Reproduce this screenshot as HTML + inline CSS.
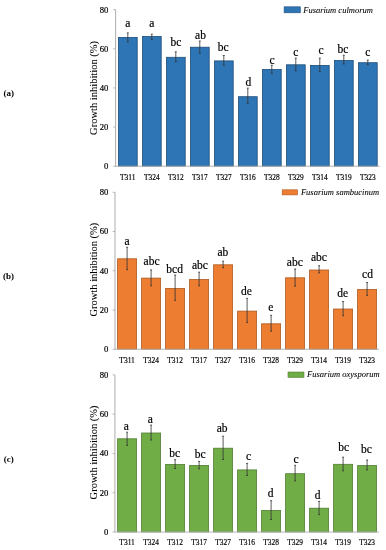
<!DOCTYPE html>
<html><head><meta charset="utf-8"><title>Growth inhibition chart</title>
<style>
html,body{margin:0;padding:0;background:#fff;}
svg{display:block;will-change:transform;}
text{font-family:"Liberation Serif",serif;fill:#000;stroke:#000;stroke-width:0.2;}
.r{font-style:normal;font-weight:normal;}
.i{font-style:italic;stroke-width:0.08;}
.yl{stroke-width:0.05;}
.b{font-weight:bold;stroke-width:0;}
</style></head><body>
<svg width="386" height="550" viewBox="0 0 386 550">
<g>
<rect x="118.4" y="37.4" width="18.8" height="128.8" fill="#2E75B6" stroke="#1F4E79" stroke-width="0.8"/>
<rect x="142.4" y="36.5" width="18.8" height="129.7" fill="#2E75B6" stroke="#1F4E79" stroke-width="0.8"/>
<rect x="166.4" y="57.3" width="18.8" height="108.9" fill="#2E75B6" stroke="#1F4E79" stroke-width="0.8"/>
<rect x="190.4" y="47.2" width="18.8" height="119" fill="#2E75B6" stroke="#1F4E79" stroke-width="0.8"/>
<rect x="214.4" y="60.9" width="18.8" height="105.3" fill="#2E75B6" stroke="#1F4E79" stroke-width="0.8"/>
<rect x="238.4" y="96.7" width="18.8" height="69.5" fill="#2E75B6" stroke="#1F4E79" stroke-width="0.8"/>
<rect x="262.4" y="69.5" width="18.8" height="96.7" fill="#2E75B6" stroke="#1F4E79" stroke-width="0.8"/>
<rect x="286.4" y="64.8" width="18.8" height="101.4" fill="#2E75B6" stroke="#1F4E79" stroke-width="0.8"/>
<rect x="310.4" y="65.4" width="18.8" height="100.8" fill="#2E75B6" stroke="#1F4E79" stroke-width="0.8"/>
<rect x="334.4" y="60.5" width="18.8" height="105.7" fill="#2E75B6" stroke="#1F4E79" stroke-width="0.8"/>
<rect x="358.4" y="62.7" width="18.8" height="103.5" fill="#2E75B6" stroke="#1F4E79" stroke-width="0.8"/>
<path d="M115.6 9.7V166.2H379.6" fill="none" stroke="#B4B4B4" stroke-width="1.1"/>
<path d="M113.3 166.2H115.6" stroke="#B4B4B4" stroke-width="1"/>
<path d="M113.3 127.07H115.6" stroke="#B4B4B4" stroke-width="1"/>
<path d="M113.3 87.95H115.6" stroke="#B4B4B4" stroke-width="1"/>
<path d="M113.3 48.82H115.6" stroke="#B4B4B4" stroke-width="1"/>
<path d="M113.3 9.7H115.6" stroke="#B4B4B4" stroke-width="1"/>
<path d="M127.8 32.9V41.9M126.8 32.9H128.8M126.8 41.9H128.8" stroke="#333" stroke-width="0.8" fill="none"/>
<path d="M151.8 34.2V39.4M150.8 34.2H152.8M150.8 39.4H152.8" stroke="#333" stroke-width="0.8" fill="none"/>
<path d="M175.8 51.8V61.7M174.8 51.8H176.8M174.8 61.7H176.8" stroke="#333" stroke-width="0.8" fill="none"/>
<path d="M199.8 41V53.3M198.8 41H200.8M198.8 53.3H200.8" stroke="#333" stroke-width="0.8" fill="none"/>
<path d="M223.8 55.5V65.3M222.8 55.5H224.8M222.8 65.3H224.8" stroke="#333" stroke-width="0.8" fill="none"/>
<path d="M247.8 88.1V103.7M246.8 88.1H248.8M246.8 103.7H248.8" stroke="#333" stroke-width="0.8" fill="none"/>
<path d="M271.8 65.3V73.4M270.8 65.3H272.8M270.8 73.4H272.8" stroke="#333" stroke-width="0.8" fill="none"/>
<path d="M295.8 58.1V70.8M294.8 58.1H296.8M294.8 70.8H296.8" stroke="#333" stroke-width="0.8" fill="none"/>
<path d="M319.8 58.1V71.7M318.8 58.1H320.8M318.8 71.7H320.8" stroke="#333" stroke-width="0.8" fill="none"/>
<path d="M343.8 55.3V64M342.8 55.3H344.8M342.8 64H344.8" stroke="#333" stroke-width="0.8" fill="none"/>
<path d="M367.8 60.1V64.6M366.8 60.1H368.8M366.8 64.6H368.8" stroke="#333" stroke-width="0.8" fill="none"/>
<rect x="284.1" y="6.8" width="16.2" height="6" fill="#2E75B6" stroke="#1F4E79" stroke-width="0.6"/>
</g>
<g class="tx">
<text class="r" x="108.4" y="169.1" font-size="8.6" text-anchor="end">0</text>
<text class="r" x="108.4" y="129.97" font-size="8.6" text-anchor="end">20</text>
<text class="r" x="108.4" y="90.85" font-size="8.6" text-anchor="end">40</text>
<text class="r" x="108.4" y="51.72" font-size="8.6" text-anchor="end">60</text>
<text class="r" x="108.4" y="12.6" font-size="8.6" text-anchor="end">80</text>
<text class="r" x="127.7" y="26.9" font-size="11.5" text-anchor="middle">a</text>
<text class="r" x="151.7" y="26.9" font-size="11.5" text-anchor="middle">a</text>
<text class="r" x="176" y="45.5" font-size="11.5" text-anchor="middle">bc</text>
<text class="r" x="200.5" y="38.8" font-size="11.5" text-anchor="middle">ab</text>
<text class="r" x="223.3" y="51.4" font-size="11.5" text-anchor="middle">bc</text>
<text class="r" x="248.4" y="85.5" font-size="11.5" text-anchor="middle">d</text>
<text class="r" x="272" y="63.7" font-size="11.5" text-anchor="middle">c</text>
<text class="r" x="295.9" y="55.8" font-size="11.5" text-anchor="middle">c</text>
<text class="r" x="321" y="54" font-size="11.5" text-anchor="middle">c</text>
<text class="r" x="343" y="52.7" font-size="11.5" text-anchor="middle">bc</text>
<text class="r" x="367.9" y="56.2" font-size="11.5" text-anchor="middle">c</text>
<text class="r" x="127.8" y="180.1" font-size="9" text-anchor="middle" textLength="15.58" lengthAdjust="spacingAndGlyphs">T311</text>
<text class="r" x="151.8" y="180.1" font-size="9" text-anchor="middle" textLength="15.58" lengthAdjust="spacingAndGlyphs">T324</text>
<text class="r" x="175.8" y="180.1" font-size="9" text-anchor="middle" textLength="15.58" lengthAdjust="spacingAndGlyphs">T312</text>
<text class="r" x="199.8" y="180.1" font-size="9" text-anchor="middle" textLength="15.58" lengthAdjust="spacingAndGlyphs">T317</text>
<text class="r" x="223.8" y="180.1" font-size="9" text-anchor="middle" textLength="15.58" lengthAdjust="spacingAndGlyphs">T327</text>
<text class="r" x="247.8" y="180.1" font-size="9" text-anchor="middle" textLength="15.58" lengthAdjust="spacingAndGlyphs">T316</text>
<text class="r" x="271.8" y="180.1" font-size="9" text-anchor="middle" textLength="15.58" lengthAdjust="spacingAndGlyphs">T328</text>
<text class="r" x="295.8" y="180.1" font-size="9" text-anchor="middle" textLength="15.58" lengthAdjust="spacingAndGlyphs">T329</text>
<text class="r" x="319.8" y="180.1" font-size="9" text-anchor="middle" textLength="15.58" lengthAdjust="spacingAndGlyphs">T314</text>
<text class="r" x="343.8" y="180.1" font-size="9" text-anchor="middle" textLength="15.58" lengthAdjust="spacingAndGlyphs">T319</text>
<text class="r" x="367.8" y="180.1" font-size="9" text-anchor="middle" textLength="15.58" lengthAdjust="spacingAndGlyphs">T323</text>
<text class="r yl" transform="translate(96.6 87.95) rotate(-90)" font-size="10.5" text-anchor="middle">Growth inhibition (%)</text>
<text class="i" x="303.2" y="12.6" font-size="8.5">Fusarium culmorum</text>
<text class="b" x="3.5" y="95.6" font-size="9">(a)</text>
</g>
<g>
<rect x="117.6" y="258.8" width="19" height="90.5" fill="#ED7D31" stroke="#AE5A21" stroke-width="0.8"/>
<rect x="141.6" y="278.1" width="19" height="71.2" fill="#ED7D31" stroke="#AE5A21" stroke-width="0.8"/>
<rect x="165.6" y="288.4" width="19" height="60.9" fill="#ED7D31" stroke="#AE5A21" stroke-width="0.8"/>
<rect x="189.6" y="279.5" width="19" height="69.8" fill="#ED7D31" stroke="#AE5A21" stroke-width="0.8"/>
<rect x="213.6" y="264.8" width="19" height="84.5" fill="#ED7D31" stroke="#AE5A21" stroke-width="0.8"/>
<rect x="237.6" y="311.1" width="19" height="38.2" fill="#ED7D31" stroke="#AE5A21" stroke-width="0.8"/>
<rect x="261.6" y="323.8" width="19" height="25.5" fill="#ED7D31" stroke="#AE5A21" stroke-width="0.8"/>
<rect x="285.6" y="277.8" width="19" height="71.5" fill="#ED7D31" stroke="#AE5A21" stroke-width="0.8"/>
<rect x="309.6" y="270" width="19" height="79.3" fill="#ED7D31" stroke="#AE5A21" stroke-width="0.8"/>
<rect x="333.6" y="309" width="19" height="40.3" fill="#ED7D31" stroke="#AE5A21" stroke-width="0.8"/>
<rect x="357.6" y="289.4" width="19" height="59.9" fill="#ED7D31" stroke="#AE5A21" stroke-width="0.8"/>
<path d="M115 192.3V349.3H379" fill="none" stroke="#B4B4B4" stroke-width="1.1"/>
<path d="M112.7 349.3H115" stroke="#B4B4B4" stroke-width="1"/>
<path d="M112.7 310.05H115" stroke="#B4B4B4" stroke-width="1"/>
<path d="M112.7 270.8H115" stroke="#B4B4B4" stroke-width="1"/>
<path d="M112.7 231.55H115" stroke="#B4B4B4" stroke-width="1"/>
<path d="M112.7 192.3H115" stroke="#B4B4B4" stroke-width="1"/>
<path d="M127.1 247.3V269.7M126.1 247.3H128.1M126.1 269.7H128.1" stroke="#333" stroke-width="0.8" fill="none"/>
<path d="M151.1 269.9V285.8M150.1 269.9H152.1M150.1 285.8H152.1" stroke="#333" stroke-width="0.8" fill="none"/>
<path d="M175.1 275.1V300.3M174.1 275.1H176.1M174.1 300.3H176.1" stroke="#333" stroke-width="0.8" fill="none"/>
<path d="M199.1 272.2V285.8M198.1 272.2H200.1M198.1 285.8H200.1" stroke="#333" stroke-width="0.8" fill="none"/>
<path d="M223.1 261.2V267.7M222.1 261.2H224.1M222.1 267.7H224.1" stroke="#333" stroke-width="0.8" fill="none"/>
<path d="M247.1 298.4V322.4M246.1 298.4H248.1M246.1 322.4H248.1" stroke="#333" stroke-width="0.8" fill="none"/>
<path d="M271.1 315.3V331.2M270.1 315.3H272.1M270.1 331.2H272.1" stroke="#333" stroke-width="0.8" fill="none"/>
<path d="M295.1 269V286.2M294.1 269H296.1M294.1 286.2H296.1" stroke="#333" stroke-width="0.8" fill="none"/>
<path d="M319.1 265.7V272.8M318.1 265.7H320.1M318.1 272.8H320.1" stroke="#333" stroke-width="0.8" fill="none"/>
<path d="M343.1 301.5V315.7M342.1 301.5H344.1M342.1 315.7H344.1" stroke="#333" stroke-width="0.8" fill="none"/>
<path d="M367.1 282.5V295.4M366.1 282.5H368.1M366.1 295.4H368.1" stroke="#333" stroke-width="0.8" fill="none"/>
<rect x="282.2" y="189.8" width="15.3" height="5.1" fill="#ED7D31" stroke="#AE5A21" stroke-width="0.6"/>
</g>
<g class="tx">
<text class="r" x="108.4" y="352.2" font-size="8.6" text-anchor="end">0</text>
<text class="r" x="108.4" y="312.95" font-size="8.6" text-anchor="end">20</text>
<text class="r" x="108.4" y="273.7" font-size="8.6" text-anchor="end">40</text>
<text class="r" x="108.4" y="234.45" font-size="8.6" text-anchor="end">60</text>
<text class="r" x="108.4" y="195.2" font-size="8.6" text-anchor="end">80</text>
<text class="r" x="127" y="244.7" font-size="11.5" text-anchor="middle">a</text>
<text class="r" x="151.6" y="265.4" font-size="11.5" text-anchor="middle">abc</text>
<text class="r" x="174.6" y="273.1" font-size="11.5" text-anchor="middle">bcd</text>
<text class="r" x="200" y="268.7" font-size="11.5" text-anchor="middle">abc</text>
<text class="r" x="222.9" y="256" font-size="11.5" text-anchor="middle">ab</text>
<text class="r" x="246.5" y="295.3" font-size="11.5" text-anchor="middle">de</text>
<text class="r" x="270.9" y="310.7" font-size="11.5" text-anchor="middle">e</text>
<text class="r" x="294.8" y="266.4" font-size="11.5" text-anchor="middle">abc</text>
<text class="r" x="318.9" y="261.2" font-size="11.5" text-anchor="middle">abc</text>
<text class="r" x="342.8" y="297.4" font-size="11.5" text-anchor="middle">de</text>
<text class="r" x="367.5" y="278" font-size="11.5" text-anchor="middle">cd</text>
<text class="r" x="127.1" y="362.7" font-size="9" text-anchor="middle" textLength="15.58" lengthAdjust="spacingAndGlyphs">T311</text>
<text class="r" x="151.1" y="362.7" font-size="9" text-anchor="middle" textLength="15.58" lengthAdjust="spacingAndGlyphs">T324</text>
<text class="r" x="175.1" y="362.7" font-size="9" text-anchor="middle" textLength="15.58" lengthAdjust="spacingAndGlyphs">T312</text>
<text class="r" x="199.1" y="362.7" font-size="9" text-anchor="middle" textLength="15.58" lengthAdjust="spacingAndGlyphs">T317</text>
<text class="r" x="223.1" y="362.7" font-size="9" text-anchor="middle" textLength="15.58" lengthAdjust="spacingAndGlyphs">T327</text>
<text class="r" x="247.1" y="362.7" font-size="9" text-anchor="middle" textLength="15.58" lengthAdjust="spacingAndGlyphs">T316</text>
<text class="r" x="271.1" y="362.7" font-size="9" text-anchor="middle" textLength="15.58" lengthAdjust="spacingAndGlyphs">T328</text>
<text class="r" x="295.1" y="362.7" font-size="9" text-anchor="middle" textLength="15.58" lengthAdjust="spacingAndGlyphs">T329</text>
<text class="r" x="319.1" y="362.7" font-size="9" text-anchor="middle" textLength="15.58" lengthAdjust="spacingAndGlyphs">T314</text>
<text class="r" x="343.1" y="362.7" font-size="9" text-anchor="middle" textLength="15.58" lengthAdjust="spacingAndGlyphs">T319</text>
<text class="r" x="367.1" y="362.7" font-size="9" text-anchor="middle" textLength="15.58" lengthAdjust="spacingAndGlyphs">T323</text>
<text class="r yl" transform="translate(96.6 269.6) rotate(-90)" font-size="10.5" text-anchor="middle">Growth inhibition (%)</text>
<text class="i" x="300.9" y="195.2" font-size="8.5">Fusarium sambucinum</text>
<text class="b" x="3" y="279.3" font-size="9">(b)</text>
</g>
<g>
<rect x="117.6" y="438.8" width="19" height="93.2" fill="#70AD47" stroke="#507E32" stroke-width="0.8"/>
<rect x="141.6" y="433" width="19" height="99" fill="#70AD47" stroke="#507E32" stroke-width="0.8"/>
<rect x="165.6" y="464.4" width="19" height="67.6" fill="#70AD47" stroke="#507E32" stroke-width="0.8"/>
<rect x="189.6" y="465.4" width="19" height="66.6" fill="#70AD47" stroke="#507E32" stroke-width="0.8"/>
<rect x="213.6" y="448.2" width="19" height="83.8" fill="#70AD47" stroke="#507E32" stroke-width="0.8"/>
<rect x="237.6" y="469.9" width="19" height="62.1" fill="#70AD47" stroke="#507E32" stroke-width="0.8"/>
<rect x="261.6" y="510.4" width="19" height="21.6" fill="#70AD47" stroke="#507E32" stroke-width="0.8"/>
<rect x="285.6" y="473.7" width="19" height="58.3" fill="#70AD47" stroke="#507E32" stroke-width="0.8"/>
<rect x="309.6" y="508.2" width="19" height="23.8" fill="#70AD47" stroke="#507E32" stroke-width="0.8"/>
<rect x="333.6" y="464.3" width="19" height="67.7" fill="#70AD47" stroke="#507E32" stroke-width="0.8"/>
<rect x="357.6" y="465.6" width="19" height="66.4" fill="#70AD47" stroke="#507E32" stroke-width="0.8"/>
<path d="M114.9 374.9V532H378.9" fill="none" stroke="#B4B4B4" stroke-width="1.1"/>
<path d="M112.6 532H114.9" stroke="#B4B4B4" stroke-width="1"/>
<path d="M112.6 492.73H114.9" stroke="#B4B4B4" stroke-width="1"/>
<path d="M112.6 453.45H114.9" stroke="#B4B4B4" stroke-width="1"/>
<path d="M112.6 414.17H114.9" stroke="#B4B4B4" stroke-width="1"/>
<path d="M112.6 374.9H114.9" stroke="#B4B4B4" stroke-width="1"/>
<path d="M127.1 432.2V445.4M126.1 432.2H128.1M126.1 445.4H128.1" stroke="#333" stroke-width="0.8" fill="none"/>
<path d="M151.1 425.1V440M150.1 425.1H152.1M150.1 440H152.1" stroke="#333" stroke-width="0.8" fill="none"/>
<path d="M175.1 459.7V468.5M174.1 459.7H176.1M174.1 468.5H176.1" stroke="#333" stroke-width="0.8" fill="none"/>
<path d="M199.1 461.4V468.8M198.1 461.4H200.1M198.1 468.8H200.1" stroke="#333" stroke-width="0.8" fill="none"/>
<path d="M223.1 436.2V459.5M222.1 436.2H224.1M222.1 459.5H224.1" stroke="#333" stroke-width="0.8" fill="none"/>
<path d="M247.1 463.4V475.5M246.1 463.4H248.1M246.1 475.5H248.1" stroke="#333" stroke-width="0.8" fill="none"/>
<path d="M271.1 500.7V519.5M270.1 500.7H272.1M270.1 519.5H272.1" stroke="#333" stroke-width="0.8" fill="none"/>
<path d="M295.1 465.3V480.8M294.1 465.3H296.1M294.1 480.8H296.1" stroke="#333" stroke-width="0.8" fill="none"/>
<path d="M319.1 501.4V514.7M318.1 501.4H320.1M318.1 514.7H320.1" stroke="#333" stroke-width="0.8" fill="none"/>
<path d="M343.1 457.2V470.8M342.1 457.2H344.1M342.1 470.8H344.1" stroke="#333" stroke-width="0.8" fill="none"/>
<path d="M367.1 460V469.9M366.1 460H368.1M366.1 469.9H368.1" stroke="#333" stroke-width="0.8" fill="none"/>
<rect x="288" y="372" width="16" height="5.4" fill="#70AD47" stroke="#507E32" stroke-width="0.6"/>
</g>
<g class="tx">
<text class="r" x="108.4" y="534.9" font-size="8.6" text-anchor="end">0</text>
<text class="r" x="108.4" y="495.62" font-size="8.6" text-anchor="end">20</text>
<text class="r" x="108.4" y="456.35" font-size="8.6" text-anchor="end">40</text>
<text class="r" x="108.4" y="417.07" font-size="8.6" text-anchor="end">60</text>
<text class="r" x="108.4" y="377.8" font-size="8.6" text-anchor="end">80</text>
<text class="r" x="126.3" y="429.6" font-size="11.5" text-anchor="middle">a</text>
<text class="r" x="150.4" y="422.5" font-size="11.5" text-anchor="middle">a</text>
<text class="r" x="174.7" y="456.6" font-size="11.5" text-anchor="middle">bc</text>
<text class="r" x="200.2" y="457.9" font-size="11.5" text-anchor="middle">bc</text>
<text class="r" x="222.1" y="432.3" font-size="11.5" text-anchor="middle">ab</text>
<text class="r" x="248.6" y="460.4" font-size="11.5" text-anchor="middle">c</text>
<text class="r" x="270.5" y="497.3" font-size="11.5" text-anchor="middle">d</text>
<text class="r" x="296" y="462.7" font-size="11.5" text-anchor="middle">c</text>
<text class="r" x="317.5" y="499.4" font-size="11.5" text-anchor="middle">d</text>
<text class="r" x="343.6" y="450.7" font-size="11.5" text-anchor="middle">bc</text>
<text class="r" x="366.5" y="453.3" font-size="11.5" text-anchor="middle">bc</text>
<text class="r" x="127.1" y="545.2" font-size="9" text-anchor="middle" textLength="15.58" lengthAdjust="spacingAndGlyphs">T311</text>
<text class="r" x="151.1" y="545.2" font-size="9" text-anchor="middle" textLength="15.58" lengthAdjust="spacingAndGlyphs">T324</text>
<text class="r" x="175.1" y="545.2" font-size="9" text-anchor="middle" textLength="15.58" lengthAdjust="spacingAndGlyphs">T312</text>
<text class="r" x="199.1" y="545.2" font-size="9" text-anchor="middle" textLength="15.58" lengthAdjust="spacingAndGlyphs">T317</text>
<text class="r" x="223.1" y="545.2" font-size="9" text-anchor="middle" textLength="15.58" lengthAdjust="spacingAndGlyphs">T327</text>
<text class="r" x="247.1" y="545.2" font-size="9" text-anchor="middle" textLength="15.58" lengthAdjust="spacingAndGlyphs">T316</text>
<text class="r" x="271.1" y="545.2" font-size="9" text-anchor="middle" textLength="15.58" lengthAdjust="spacingAndGlyphs">T328</text>
<text class="r" x="295.1" y="545.2" font-size="9" text-anchor="middle" textLength="15.58" lengthAdjust="spacingAndGlyphs">T329</text>
<text class="r" x="319.1" y="545.2" font-size="9" text-anchor="middle" textLength="15.58" lengthAdjust="spacingAndGlyphs">T314</text>
<text class="r" x="343.1" y="545.2" font-size="9" text-anchor="middle" textLength="15.58" lengthAdjust="spacingAndGlyphs">T319</text>
<text class="r" x="367.1" y="545.2" font-size="9" text-anchor="middle" textLength="15.58" lengthAdjust="spacingAndGlyphs">T323</text>
<text class="r yl" transform="translate(96.6 452.45) rotate(-90)" font-size="10.5" text-anchor="middle">Growth inhibition (%)</text>
<text class="i" x="307.1" y="377.4" font-size="8.5">Fusarium oxysporum</text>
<text class="b" x="3.7" y="461.8" font-size="9">(c)</text>
</g>
</svg>
</body></html>
